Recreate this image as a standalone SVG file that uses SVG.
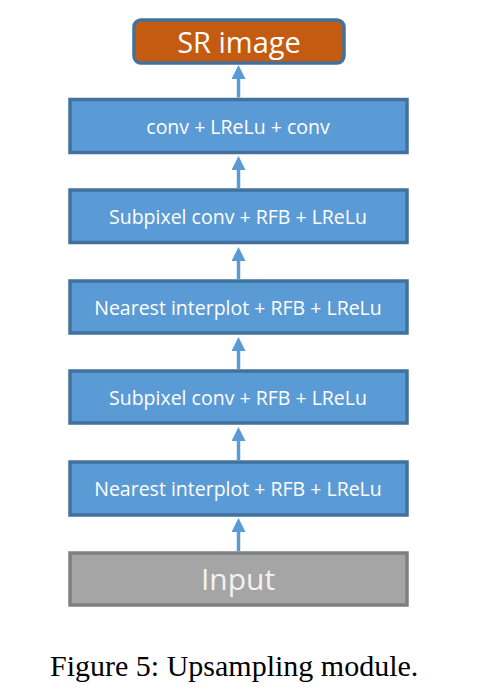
<svg xmlns="http://www.w3.org/2000/svg" width="483" height="691" viewBox="0 0 483 691">
<style>
.blk rect{fill:#5B9BD5;stroke:#41719C;stroke-width:3.5}
.blk text{fill:#fff;font-family:"Open Sans","Noto Sans",sans-serif;font-size:19.5px;text-anchor:middle;dominant-baseline:central}
.arr line{stroke:#5B9BD5;stroke-width:3.5}
</style>
<defs>
<marker id="ah" markerWidth="4" markerHeight="4" refX="2" refY="2" orient="auto" markerUnits="strokeWidth"><path d="M0,0 L4,2 L0,4 Z" fill="#5B9BD5"/></marker>
</defs>
<rect width="483" height="691" fill="#fff"/>
<g id="sr">
<rect x="134" y="20" width="210" height="43" rx="7" fill="#C55A11" stroke="#41719C" stroke-width="3.5"/>
<text x="239" y="41" fill="#fff" font-family="'Open Sans','Noto Sans',sans-serif" font-size="29" text-anchor="middle" dominant-baseline="central">SR image</text>
</g>
<g id="b1" class="blk"><rect x="70" y="99.5" width="337" height="53"/><text x="238" y="126">conv + LReLu + conv</text></g>
<g id="b2" class="blk"><rect x="70" y="190" width="337" height="52.5"/><text x="238" y="216.5">Subpixel conv + RFB + LReLu</text></g>
<g id="b3" class="blk"><rect x="70" y="281" width="337" height="52"/><text x="238" y="307">Nearest interplot + RFB + LReLu</text></g>
<g id="b4" class="blk"><rect x="70" y="371" width="337" height="52"/><text x="238" y="397">Subpixel conv + RFB + LReLu</text></g>
<g id="b5" class="blk"><rect x="70" y="462" width="337" height="53"/><text x="238" y="488.5">Nearest interplot + RFB + LReLu</text></g>
<g id="input">
<rect x="70" y="553" width="337" height="52" fill="#A5A5A5" stroke="#7F7F7F" stroke-width="3.5"/>
<text x="238" y="578" fill="#F2F2F2" font-family="'Open Sans','Noto Sans',sans-serif" font-size="30" text-anchor="middle" dominant-baseline="central">Input</text>
</g>
<g id="connectors" class="arr">
<line x1="238.5" y1="97.5" x2="238.5" y2="72" marker-end="url(#ah)"/>
<line x1="238.5" y1="188" x2="238.5" y2="163" marker-end="url(#ah)"/>
<line x1="238.5" y1="279" x2="238.5" y2="254" marker-end="url(#ah)"/>
<line x1="238.5" y1="369" x2="238.5" y2="344" marker-end="url(#ah)"/>
<line x1="238.5" y1="460" x2="238.5" y2="434" marker-end="url(#ah)"/>
<line x1="238.5" y1="551" x2="238.5" y2="525" marker-end="url(#ah)"/>
</g>
<text x="50" y="676" font-family="'Liberation Serif',serif" font-size="30" fill="#000">Figure 5: Upsampling module.</text>
</svg>
